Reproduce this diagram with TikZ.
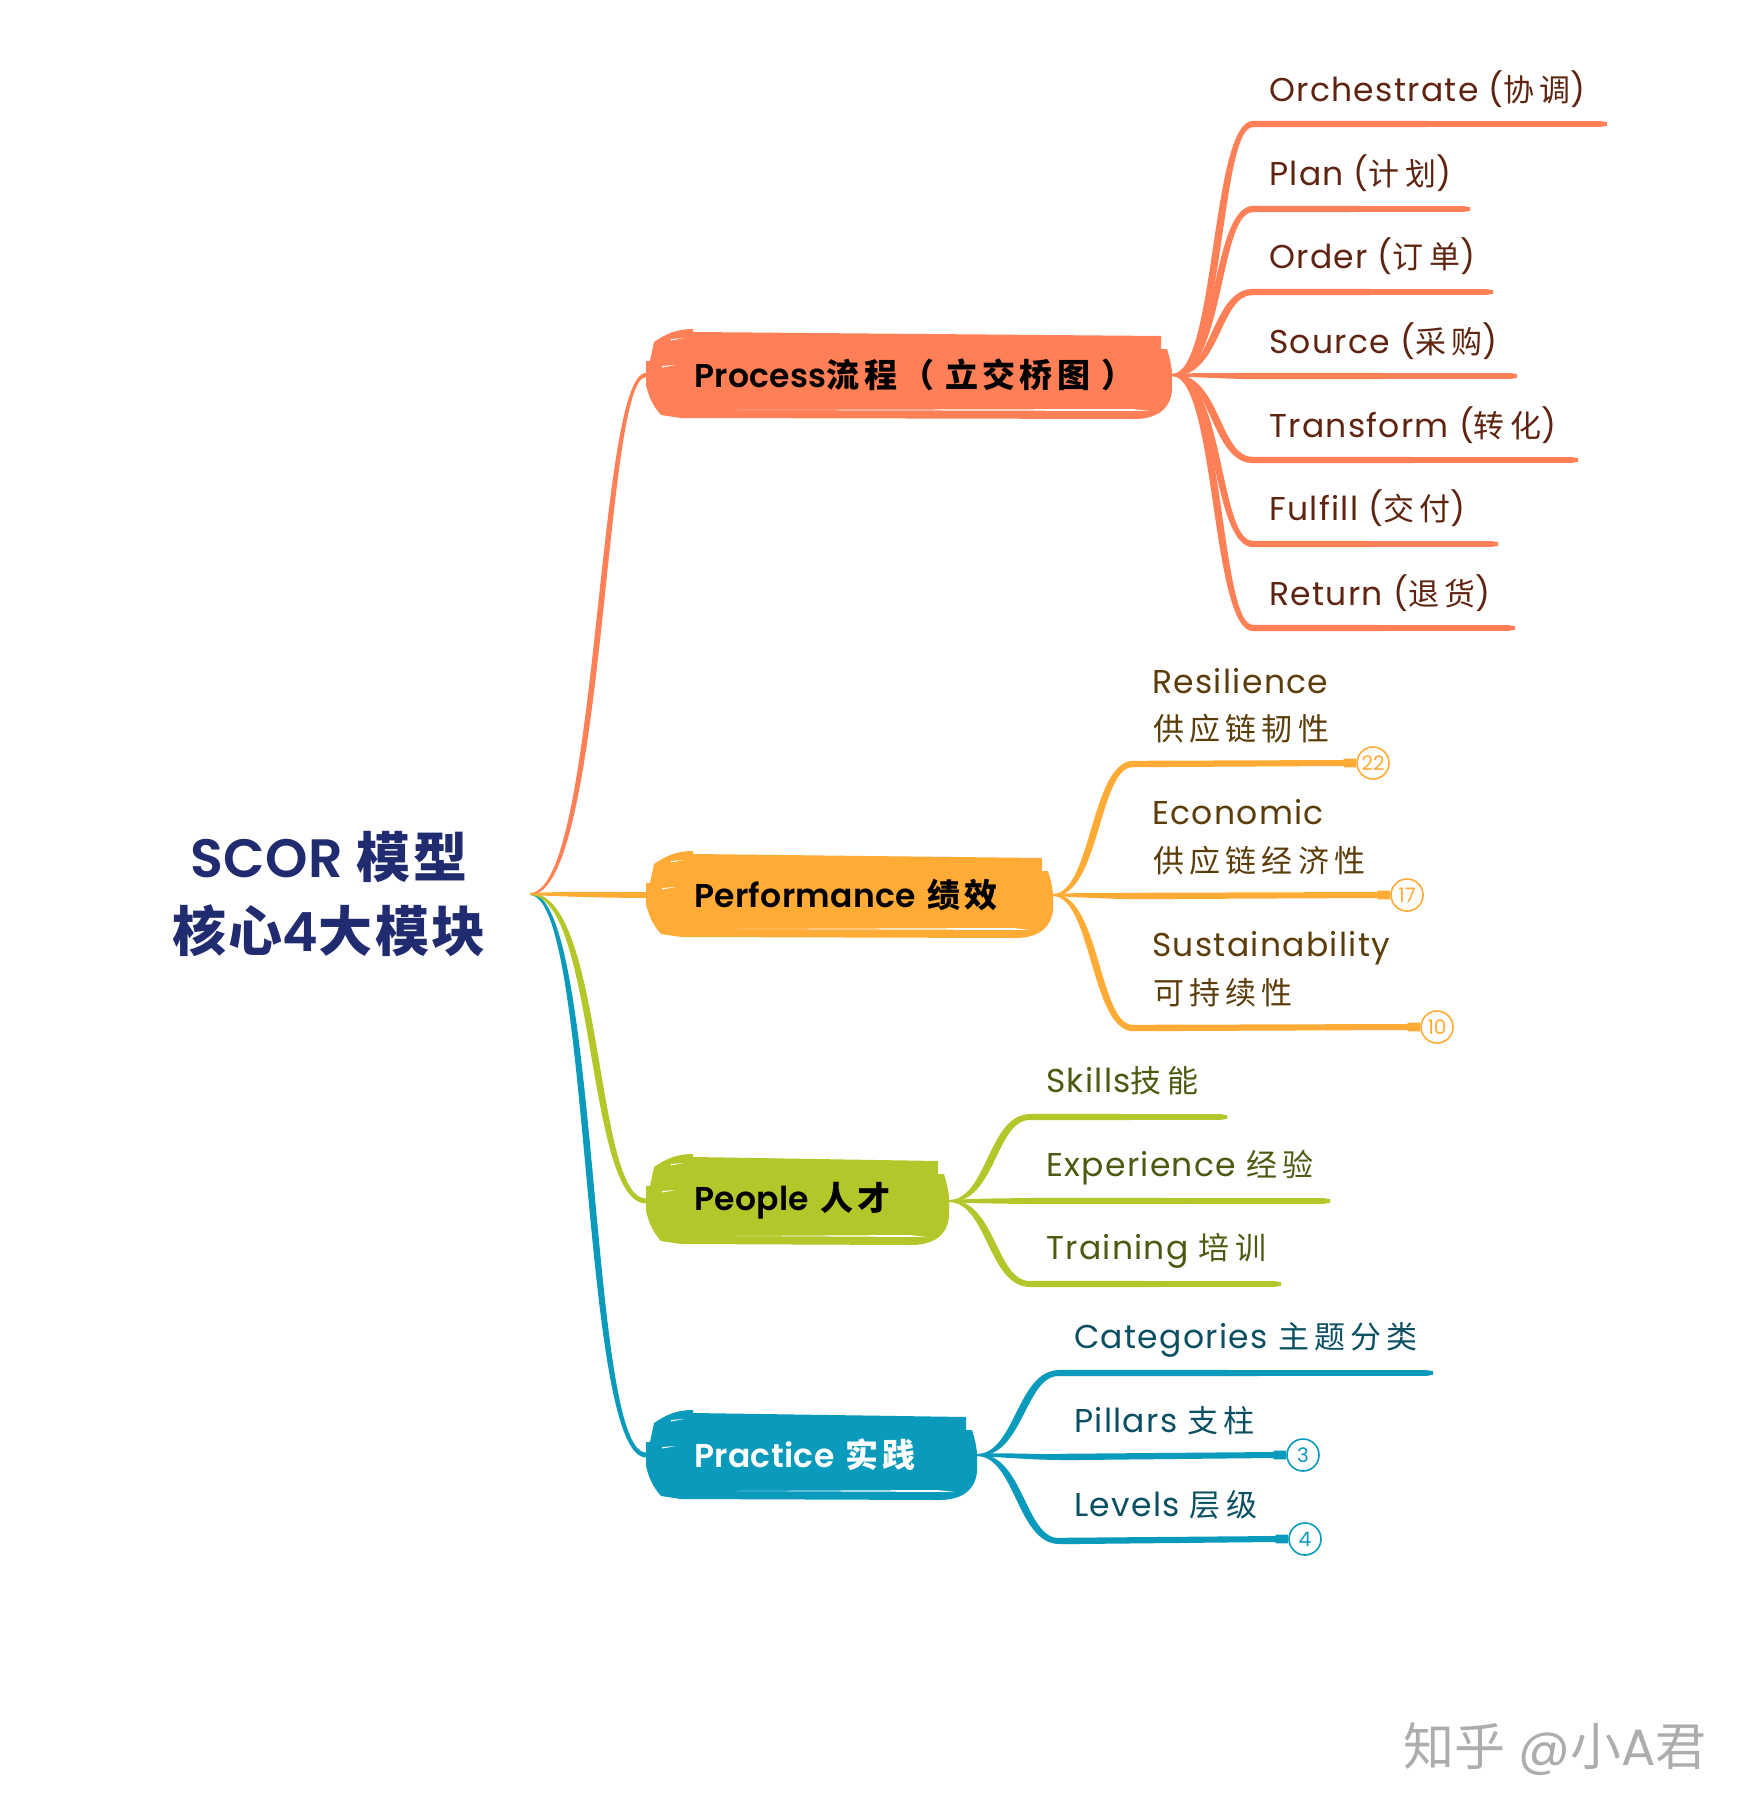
\documentclass[tikz,border=0pt]{standalone}
\usepackage{fontspec}
\usetikzlibrary{calc}
\setmainfont[LetterSpace=4]{Poppins}
\newfontfamily\boldlat[LetterSpace=1]{Poppins SemiBold}
\newfontfamily\plainlat{Poppins}
\newfontfamily\cjk[LetterSpace=17]{Noto Sans CJK SC}
\newfontfamily\cjkn[LetterSpace=13]{Noto Sans CJK SC}
\newfontfamily\cjkr[LetterSpace=5]{Noto Sans CJK SC}
\newfontfamily\cjkw{Noto Sans CJK SC}
\definecolor{coral}{HTML}{FF7F57}
\definecolor{amber}{HTML}{FFAB36}
\definecolor{lime}{HTML}{B4C72A}
\definecolor{teal2}{HTML}{0A9ABB}
\definecolor{coralT}{HTML}{5F2410}
\definecolor{amberT}{HTML}{5C3D0A}
\definecolor{limeT}{HTML}{4B5A10}
\definecolor{tealT}{HTML}{0A4F62}
\definecolor{navy}{HTML}{212B6F}
\pgfdeclarelayer{bg}
\pgfsetlayers{bg,main}
\tikzset{
  leaf/.style={anchor=west,inner sep=0pt,text=#1,font=\fontsize{33}{36}\selectfont},
  mainnode/.style={anchor=west,inner xsep=48pt,inner ysep=0pt,align=left,text width=#1,font=\boldlat\fontsize{33}{38}\selectfont},
  badge/.style={circle,draw=#1,fill=white,line width=1.6pt,minimum size=32pt,inner sep=0pt,text=#1,font=\plainlat\fontsize{20}{22}\selectfont},
  rootlabel/.style={align=center,inner sep=0pt,text=navy,font=\boldlat\fontsize{54}{74}\selectfont},
}
\newcommand\zh[1]{{\fontsize{31}{36}\selectfont\cjk #1}}
\newcommand\zhb[1]{{\cjkn\bfseries #1}}
\newcommand\zhr[1]{{\cjkr\bfseries #1}}
% tapered connector: colour, from, to, dx1, dx2, ox, oy, end half width
\newcommand\lens[8]{%
  \fill[#1] ($(#2)+(0,-1)$) .. controls ($(#2)+({#4+(#6)},{#7})$) and ($(#3)+({-(#5)+(#6)},{#7})$) .. ($(#3)+(0,{-(#8)})$)
    -- ($(#3)+(0,{#8})$) .. controls ($(#3)+({-(#5)-(#6)},{-(#7)})$) and ($(#2)+({#4-(#6)},{-(#7)})$) .. ($(#2)+(0,1)$) -- cycle;}
% rough marker body: colour, left, right, top, bottom
\newcommand\rough[5]{%
  \fill[#1] (#2+8,#4+13) .. controls (#2+20,#4+5) and (#2+30,#4) .. (#2+47,#4) -- (#2+47,#4+3)
    -- (#3-11,#4+7) -- (#3-11,#4+20) -- (#3-5,#4+20) .. controls (#3-2,#4+30) and (#3,#4+38) .. (#3,#4+46)
    -- (#3,#5-28) .. controls (#3-2,#5-10) and (#3-15,#5) .. (#3-38,#5) -- (#2+35,#5-1) -- (#2+15,#5-4)
    .. controls (#2+5,#5-15) and (#2+2,#5-26) .. (#2,#5-34) -- (#2,#4+32) -- (#2+4,#4+32) -- cycle;
  \fill[white] (#2+90,#5-9) -- (#3-40,#5-10) -- (#3-22,#5-8) -- cycle;
  \fill[white] (#2+16,#4+37) -- (#2+30,#4+36) -- (#2+16,#4+38.5) -- cycle;
  \fill[white] (#2+25,#4+10) -- (#2+38,#4+9) -- (#2+25,#4+11.5) -- cycle;}
% coloured branch line: colour, start, end
\newcommand\limb[3]{%
  \fill[#1] ($(#2)+(0,-3.2)$) -- ($(#3)+(-6,-2.8)$) -- ($(#3)+(0,-1.8)$) -- ($(#3)+(0,1.8)$) -- ($(#3)+(-6,2.8)$) -- ($(#2)+(0,3.2)$) -- cycle;}
% branch line ending on a badge, with a short thicker stub
\newcommand\blimb[3]{%
  \fill[#1] ($(#2)+(0,-3.2)$) -- ($(#3)+(-13,-3)$) -- ($(#3)+(-12,-4.4)$) -- ($(#3)+(0,-4.4)$) -- ($(#3)+(0,4.4)$) -- ($(#3)+(-12,4.4)$) -- ($(#3)+(-13,3)$) -- ($(#2)+(0,3.2)$) -- cycle;}
\begin{document}
\begin{tikzpicture}[x=1pt,y=-1pt]
\useasboundingbox (0,0) rectangle (1755,1819);
% root
\node[rootlabel] (root) at (329,894) {SCOR \zhr{模型}\\\zhr{核心}4\zhr{大模块}};
\coordinate (hub) at (530,894);
% main nodes
\node[mainnode=430pt] (proc) at (646,375) {\mbox{Process\zhb{流程（ 立交桥图 ）}}};
\node[mainnode=311pt] (perf) at (646,895) {Performance \zhb{绩效}};
\node[mainnode=207pt] (peop) at (646,1201) {People \zhb{人才}};
\node[mainnode=235pt,text=white] (prac) at (646,1455) {Practice \zhb{实践}};
% process leaves
\node[leaf=coralT] (o1) at (1269,89) {Orchestrate (\zh{协调})};
\node[leaf=coralT] (o2) at (1269,173) {Plan (\zh{计划})};
\node[leaf=coralT] (o3) at (1269,256) {Order (\zh{订单})};
\node[leaf=coralT] (o4) at (1269,341) {Source (\zh{采购})};
\node[leaf=coralT] (o5) at (1269,425) {Transform (\zh{转化})};
\node[leaf=coralT] (o6) at (1269,508) {Fulfill (\zh{交付})};
\node[leaf=coralT] (o7) at (1269,593) {Return (\zh{退货})};
\coordinate (o1s) at (1253,124); \coordinate (o1e) at (1607,124);
\coordinate (o2s) at (1253,209); \coordinate (o2e) at (1470,209);
\coordinate (o3s) at (1253,292); \coordinate (o3e) at (1493,292);
\coordinate (o4s) at (1253,376); \coordinate (o4e) at (1517,376);
\coordinate (o5s) at (1253,460); \coordinate (o5e) at (1578,460);
\coordinate (o6s) at (1253,544); \coordinate (o6e) at (1498,544);
\coordinate (o7s) at (1253,628); \coordinate (o7e) at (1515,628);
% performance leaves
\node[leaf=amberT,align=left] (a1) at (1152,681) {Resilience};
\node[leaf=amberT] (a1z) at (1153,729) {\zh{供应链韧性}};
\node[leaf=amberT] (a2) at (1152,812) {Economic};
\node[leaf=amberT] (a2z) at (1153,861) {\zh{供应链经济性}};
\node[leaf=amberT] (a3) at (1152,948) {Sustainability};
\node[leaf=amberT] (a3z) at (1153,993) {\zh{可持续性}};
\node[badge=amber] (b22) at (1373,763) {22};
\node[badge=amber] (b17) at (1407,895) {17};
\node[badge=amber] (b10) at (1437,1027) {10};
\coordinate (a1s) at (1133,764);
\coordinate (a2s) at (1133,896);
\coordinate (a3s) at (1133,1028);
% people leaves
\node[leaf=limeT] (l1) at (1046,1081) {Skills\zh{技能}};
\node[leaf=limeT] (l2) at (1046,1168) {Experience \zh{经验}};
\node[leaf=limeT] (l3) at (1046,1251) {Training \zh{培训}};
\coordinate (l1s) at (1030,1117); \coordinate (l1e) at (1227,1117);
\coordinate (l2s) at (1030,1201); \coordinate (l2e) at (1330,1201);
\coordinate (l3s) at (1030,1284); \coordinate (l3e) at (1281,1284);
% practice leaves
\node[leaf=tealT] (t1) at (1074,1340) {Categories \zh{主题分类}};
\node[leaf=tealT] (t2) at (1074,1421) {Pillars \zh{支柱}};
\node[leaf=tealT] (t3) at (1074,1505) {Levels \zh{层级}};
\node[badge=teal2] (b3) at (1303,1455) {3};
\node[badge=teal2] (b4) at (1305,1539) {4};
\coordinate (t1s) at (1059,1373); \coordinate (t1e) at (1433,1373);
\coordinate (t2s) at (1059,1457);
\coordinate (t3s) at (1059,1541);
% watermark
\node[inner sep=0pt,anchor=west,text=black!32,font=\plainlat\fontsize{51}{56}\selectfont] (wm) at (1403,1749) {{\cjkw 知乎} @{\cjkw 小}A{\cjkw 君}};
\begin{pgfonlayer}{bg}
  % main branches
  \lens{teal2}{hub}{prac.west}{66}{62}{4.2}{-2}{2.5}
  \lens{lime}{hub}{peop.west}{70}{56}{4.2}{-2}{2.5}
  \lens{coral}{hub}{proc.west}{72}{46}{-3.6}{-2}{2}
  \lens{amber}{hub}{perf.west}{40}{40}{0}{-2.8}{3}
  \rough{coral}{646}{1172}{329}{419}
  \rough{amber}{646}{1053}{851}{938}
  \rough{lime}{646}{949}{1154}{1245}
  \rough{teal2}{646}{977}{1410}{1500}
  % process branches
  \foreach \n/\da/\db/\ox in {o1/48/38/-4.5,o2/48/38/-4,o3/45/38/-4,o5/44/38/4,o6/48/38/4,o7/48/38/4.5}{
    \lens{coral}{proc.east}{\n s}{\da}{\db}{\ox}{-2.4}{3.2}
    \limb{coral}{\n s}{\n e}
  }
  \lens{coral}{proc.east}{o4s}{30}{30}{0}{-2.6}{3.2}
  \limb{coral}{o4s}{o4e}
  % performance branches
  \lens{amber}{perf.east}{a1s}{42}{38}{-4}{-2.4}{3.2}
  \lens{amber}{perf.east}{a2s}{30}{30}{0}{-2.6}{3.2}
  \lens{amber}{perf.east}{a3s}{42}{38}{4}{-2.4}{3.2}
  \blimb{amber}{a1s}{b22.west}
  \blimb{amber}{a2s}{b17.west}
  \blimb{amber}{a3s}{b10.west}
  % people branches
  \lens{lime}{peop.east}{l1s}{42}{38}{-4}{-2.4}{3}
  \lens{lime}{peop.east}{l2s}{30}{30}{0}{-2.6}{3}
  \lens{lime}{peop.east}{l3s}{42}{38}{4}{-2.4}{3}
  \limb{lime}{l1s}{l1e}
  \limb{lime}{l2s}{l2e}
  \limb{lime}{l3s}{l3e}
  % practice branches
  \lens{teal2}{prac.east}{t1s}{42}{38}{-4}{-2.4}{3}
  \lens{teal2}{prac.east}{t2s}{30}{30}{0}{-2.6}{3}
  \lens{teal2}{prac.east}{t3s}{42}{38}{4}{-2.4}{3}
  \limb{teal2}{t1s}{t1e}
  \blimb{teal2}{t2s}{b3.west}
  \blimb{teal2}{t3s}{b4.west}
\end{pgfonlayer}
\end{tikzpicture}
\end{document}
